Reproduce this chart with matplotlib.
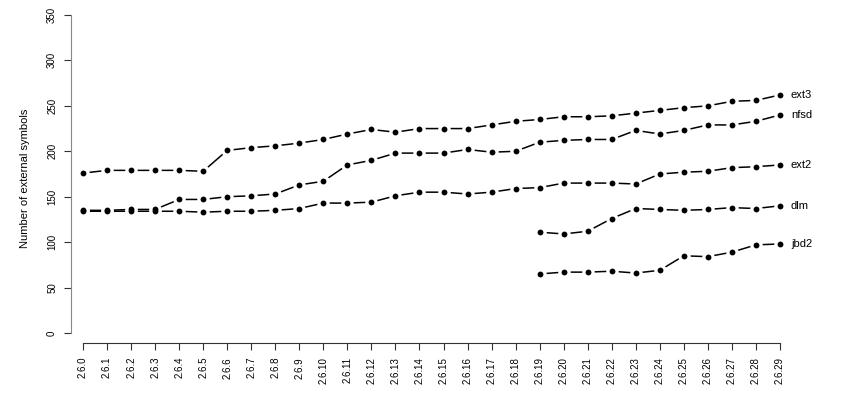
import numpy as np
import matplotlib.pyplot as plt

plt.rcParams['font.family'] = ['Liberation Sans', 'DejaVu Sans']

versions = ['2.6.%d' % i for i in range(30)]

ext3 = [176, 179, 179, 179, 179, 178, 201, 204, 206, 209, 213, 219, 224, 221, 225,
        225, 225, 229, 233, 235, 238, 238, 239, 242, 245, 248, 250, 255, 256, 262]
nfsd = [135, 135, 136, 136, 147, 147, 150, 151, 153, 163, 167, 185, 190, 198, 198,
        198, 202, 199, 200, 210, 212, 213, 213, 223, 219, 223, 229, 229, 233, 240]
ext2 = [134, 134, 134, 134, 134, 133, 134, 134, 135, 137, 143, 143, 144, 151, 155,
        155, 153, 155, 159, 160, 165, 165, 165, 164, 175, 177, 178, 182, 183, 185]
# dlm and jbd2 only exist from 2.6.19 on
dlm = [111, 109, 112, 126, 137, 136, 135, 136, 138, 137, 140]
jbd2 = [65, 67, 67, 68, 66, 69, 85, 84, 89, 97, 98]

series = [('ext3', ext3), ('nfsd', nfsd), ('ext2', ext2), ('dlm', dlm), ('jbd2', jbd2)]

fig = plt.figure(figsize=(8.5, 4), dpi=100)
# axes placed so the R-style layout lines up with the reference
ax = fig.add_axes([71 / 850, 1 - 343 / 400, (800 - 71) / 850, (343 - 13) / 400])
ax.set_xlim(-12 / 24, 29 + 20 / 24)
ax.set_ylim(-10 * 350 / 318, 350 + 2 * 350 / 318)

n = len(versions)
for name, vals in series:
    x = np.arange(n - len(vals), n)
    ax.plot(x, vals, color='black', lw=1.1, zorder=2)
    # white halo gives the R type="b" gap round each point
    ax.plot(x, vals, ls='none', marker='o', ms=9, mfc='white', mec='none', zorder=3)
    ax.plot(x, vals, ls='none', marker='o', ms=4.2, mfc='black', mec='none', zorder=4)
    ax.text(x[-1] + 0.45, vals[-1], name, fontsize=8, va='center', ha='left')

for s in ['top', 'right']:
    ax.spines[s].set_visible(False)
ax.spines['left'].set_bounds(0, 350)
ax.spines['left'].set_color('#888888')
ax.spines['bottom'].set_bounds(0, 29)
ax.spines['bottom'].set_color('#333333')

ax.set_yticks(np.arange(0, 351, 50))
ax.set_yticklabels([str(v) for v in range(0, 351, 50)], rotation=90, va='center')
ax.set_xticks(np.arange(n))
ax.set_xticklabels(versions, rotation=90)
ax.tick_params(axis='both', labelsize=7, length=5, width=0.8, color='#333333', pad=5)
ax.set_ylabel('Number of external symbols', fontsize=8, labelpad=12)

fig.savefig('out.png', dpi=100)
